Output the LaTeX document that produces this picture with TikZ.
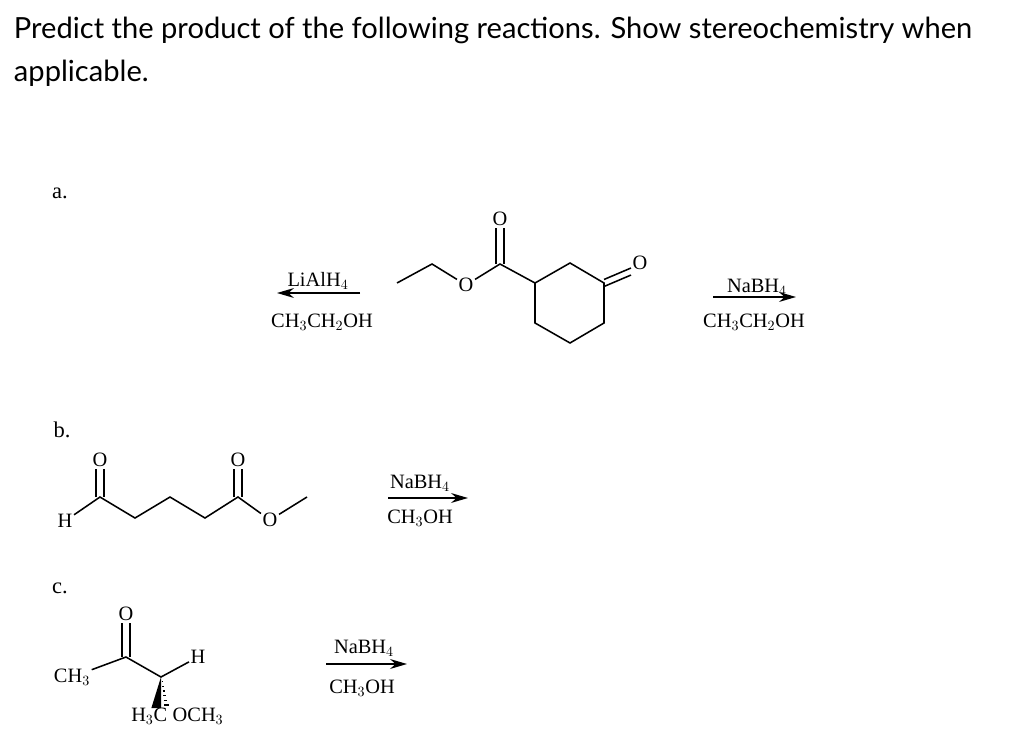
\documentclass[tikz,border=0pt]{standalone}
\usepackage{fontspec}
\setmainfont{Liberation Serif}
\newfontfamily\lato{Lato}
\usetikzlibrary{arrows.meta,calc}
\tikzset{
	bond/.style={line width=1.1pt},
	atom/.style={inner sep=1pt,font=\fontsize{14.5}{14.5}\selectfont},
	rxn/.style={line width=1.3pt,-{Stealth[length=12pt,width=7pt]}},
	reag/.style={font=\fontsize{14.5}{14.5}\selectfont},
	tag/.style={font=\fontsize{16}{16}\selectfont}
}
\begin{document}
\begin{tikzpicture}[x=0.025cm,y=-0.025cm]
	\useasboundingbox (0,0) rectangle (1024,754);
	\node[anchor=north west,align=left,font=\lato\fontsize{20.7}{31}\selectfont] (title) at (9,12)
		{Predict the product of the following reactions. Show stereochemistry when\\applicable.};
	% part a
	\node[tag] (la) at (60,193) {a.};
	\coordinate (a1) at (397,283);
	\coordinate (a2) at (432,264);
	\node[atom] (aO) at (466,285) {O};
	\coordinate (a3) at (500,264);
	\node[atom] (aO2) at (500,219) {O};
	\coordinate (r1) at (535,283);
	\coordinate (r2) at (570,263);
	\coordinate (r3) at (604,283);
	\coordinate (r4) at (604,323);
	\coordinate (r5) at (570,343);
	\coordinate (r6) at (535,323);
	\node[atom] (aO3) at (640,263) {O};
	\draw[bond] (a1) -- (a2) -- (aO) -- (a3) -- (r1);
	\draw[bond] (r1) -- (r2) -- (r3) -- (r4) -- (r5) -- (r6) -- cycle;
	\draw[bond] ([xshift=-3]a3) -- ([xshift=-3]aO2.south);
	\draw[bond] ([xshift=3]a3) -- ([xshift=3]aO2.south);
	\draw[bond] ([yshift=-2.5]r3) -- ([yshift=-2.5]aO3.south west);
	\draw[bond] ([yshift=2.5]r3) -- ([yshift=2.5]aO3.south west);
	\coordinate (aL1) at (360,293);
	\coordinate (aL2) at (277,293);
	\draw[rxn] (aL1) -- (aL2);
	\node[reag] (aLa) at (318,281) {LiAlH$_4$};
	\node[reag] (aLb) at (322,322) {CH$_3$CH$_2$OH};
	\coordinate (aR1) at (713,297);
	\coordinate (aR2) at (796,297);
	\draw[rxn] (aR1) -- (aR2);
	\node[reag] (aRa) at (757,287) {NaBH$_4$};
	\node[reag] (aRb) at (754,322) {CH$_3$CH$_2$OH};
	% part b
	\node[tag] (lb) at (62,430) {b.};
	\node[atom] (bH) at (65,521) {H};
	\coordinate (b1) at (100,497);
	\node[atom] (bO1) at (100,460) {O};
	\coordinate (b2) at (135,518);
	\coordinate (b3) at (170,497);
	\coordinate (b4) at (205,518);
	\coordinate (b5) at (238,497);
	\node[atom] (bO2) at (238,460) {O};
	\node[atom] (bO3) at (270,520) {O};
	\coordinate (b6) at (307,497);
	\draw[bond] (bH) -- (b1) -- (b2) -- (b3) -- (b4) -- (b5) -- (bO3) -- (b6);
	\foreach \s in {-3,3} {
		\draw[bond] ([xshift=\s]b1) -- ([xshift=\s]bO1.south);
		\draw[bond] ([xshift=\s]b5) -- ([xshift=\s]bO2.south);
	}
	\coordinate (bA1) at (388,498);
	\coordinate (bA2) at (468,498);
	\draw[rxn] (bA1) -- (bA2);
	\node[reag] (bAa) at (420,483) {NaBH$_4$};
	\node[reag] (bAb) at (420,518) {CH$_3$OH};
	% part c
	\node[tag] (lc) at (60,588) {c.};
	\node[atom] (cO) at (126,614) {O};
	\coordinate (c1) at (126,657);
	\node[atom] (cMe) at (72,677) {CH$_3$};
	\coordinate (c2) at (161,677);
	\node[atom] (cH) at (198,657) {H};
	\node[atom,anchor=north east] (cMe2) at (169,706) {H$_3$C};
	\node[atom,anchor=north west] (cOMe) at (171,706) {OCH$_3$};
	\coordinate (wedge) at (157,708);
	\coordinate (hash) at (167,708);
	\draw[bond] (cMe) -- (c1) -- (c2) -- (cH);
	\foreach \s in {-3,3}
		\draw[bond] ([xshift=\s]c1) -- ([xshift=\s]cO.south);
	\fill (c2) -- ([xshift=-4]wedge) -- ([xshift=3]wedge) -- cycle;
	\foreach \t in {0.15,0.3,...,0.95}
		\draw[line width=0.9pt] ($(c2)!\t!(hash)$) ++(-2.5*\t,0) -- ++(5*\t,0);
	\coordinate (cA1) at (326,664);
	\coordinate (cA2) at (407,664);
	\draw[rxn] (cA1) -- (cA2);
	\node[reag] (cAa) at (364,648) {NaBH$_4$};
	\node[reag] (cAb) at (362,688) {CH$_3$OH};
\end{tikzpicture}
\end{document}
